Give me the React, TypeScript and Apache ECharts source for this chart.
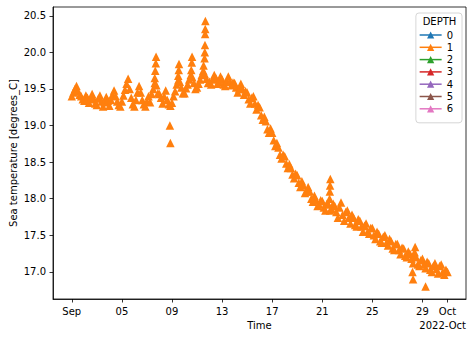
import React, { useEffect, useRef } from "react";
import * as echarts from "echarts";

// Legend categories (DEPTH) and matplotlib tab10 colours
const depths = ["0", "1", "2", "3", "4", "5", "6"];
const depthColors = ["#1f77b4", "#ff7f0e", "#2ca02c", "#d62728", "#9467bd", "#8c564b", "#e377c2"];

// Regular 3-hourly samples starting 2022-09-01 00:00 UTC (depth 1)
const sampleStart = "2022-09-01T00:00Z";
const sampleStepHours = 3;
const tempSep01to05 = [
  19.40, 19.45, 19.50, 19.54, 19.47, 19.42, 19.40, 19.36,
  19.34, 19.41, 19.38, 19.31, 19.36, 19.43, 19.37, 19.30,
  19.28, 19.37, 19.41, 19.33, 19.26, 19.32, 19.39, 19.34,
  19.27, 19.35, 19.42, 19.48, 19.40, 19.33, 19.28, 19.26,
  19.33, 19.41, 19.49, 19.57, 19.64, 19.50, 19.38, 19.29,
];
const tempSep06to10 = [
  19.26, 19.35, 19.45, 19.54, 19.45, 19.35, 19.29, 19.26,
  19.33, 19.40, 19.32, 19.43, 19.50, 19.58, 19.55, 19.44,
  19.43, 19.38, 19.30, 19.40, 19.48, 19.35, 19.29, 19.27,
  19.31, 19.40, 19.47, 19.56, 19.62, 19.60, 19.52, 19.44,
  19.44, 19.51, 19.56, 19.63, 19.69, 19.66, 19.58, 19.50,
];
const tempSep11to15 = [
  19.52, 19.57, 19.63, 19.69, 19.72, 19.70, 19.64, 19.58,
  19.60, 19.56, 19.63, 19.69, 19.65, 19.57, 19.60, 19.67,
  19.63, 19.56, 19.54, 19.61, 19.67, 19.60, 19.55, 19.59,
  19.58, 19.52, 19.45, 19.50, 19.57, 19.50, 19.42, 19.47,
  19.45, 19.36, 19.30, 19.38, 19.40, 19.30, 19.22, 19.28,
];
const tempSep16to20 = [
  19.25, 19.14, 19.08, 19.12, 19.06, 18.95, 18.90, 18.96,
  18.90, 18.80, 18.72, 18.76, 18.70, 18.60, 18.55, 18.60,
  18.58, 18.48, 18.42, 18.47, 18.42, 18.33, 18.28, 18.34,
  18.32, 18.22, 18.16, 18.24, 18.18, 18.08, 18.10, 18.16,
  18.10, 18.00, 17.96, 18.04, 17.98, 17.90, 17.92, 17.98,
];
const tempSep21to25 = [
  17.97, 17.88, 17.84, 17.93, 17.92, 17.84, 17.86, 17.93,
  17.90, 17.82, 17.74, 17.88, 17.95, 17.78, 17.70, 17.82,
  17.84, 17.74, 17.66, 17.78, 17.74, 17.64, 17.62, 17.72,
  17.70, 17.62, 17.55, 17.63, 17.66, 17.55, 17.52, 17.60,
  17.60, 17.50, 17.45, 17.55, 17.52, 17.42, 17.40, 17.48,
];
const tempSep26toOct01 = [
  17.50, 17.40, 17.36, 17.45, 17.42, 17.32, 17.30, 17.38,
  17.38, 17.30, 17.24, 17.33, 17.32, 17.22, 17.20, 17.28,
  17.25, 17.18, 17.12, 17.22, 17.20, 17.10, 17.08, 17.16,
  17.18, 17.10, 17.05, 17.14, 17.12, 17.03, 17.00, 17.08,
  17.12, 17.04, 16.98, 17.08, 17.10, 17.00, 16.96, 17.03,
  17.00,
];

// Short excursions (spikes and outliers) between regular samples
const spikeTimes = [
  "2022-09-07T15:00Z", "2022-09-07T16:00Z", "2022-09-07T17:00Z", "2022-09-07T17:30Z",
  "2022-09-08T20:00Z", "2022-09-08T21:00Z",
  "2022-09-09T12:00Z", "2022-09-09T13:00Z", "2022-09-09T13:30Z",
  "2022-09-10T13:00Z", "2022-09-10T14:00Z", "2022-09-10T14:30Z",
  "2022-09-11T12:00Z", "2022-09-11T12:30Z", "2022-09-11T14:30Z", "2022-09-11T15:00Z",
  "2022-09-11T15:15Z", "2022-09-11T15:30Z", "2022-09-11T15:45Z", "2022-09-11T16:00Z",
  "2022-09-21T14:00Z", "2022-09-21T14:30Z", "2022-09-21T15:00Z", "2022-09-21T15:30Z",
  "2022-09-28T05:00Z", "2022-09-28T06:00Z", "2022-09-28T09:00Z", "2022-09-28T10:00Z",
  "2022-09-29T06:00Z",
];
const spikeValues = [
  19.65, 19.75, 19.85, 19.94,
  19.00, 18.76,
  19.68, 19.76, 19.84,
  19.76, 19.86, 19.94,
  19.75, 19.82, 19.92, 20.00,
  20.10, 20.25, 20.32, 20.43,
  18.00, 18.10, 18.18, 18.27,
  17.00, 16.90, 17.27, 17.34,
  16.80,
];

// Axes
const xTickDates = [
  "2022-09-01T00:00Z", "2022-09-05T00:00Z", "2022-09-09T00:00Z", "2022-09-13T00:00Z",
  "2022-09-17T00:00Z", "2022-09-21T00:00Z", "2022-09-25T00:00Z", "2022-09-29T00:00Z",
  "2022-10-01T00:00Z",
];
const xMinDate = "2022-08-30T12:00Z";
const xMaxDate = "2022-10-02T11:30Z";
const yTicks = [17.0, 17.5, 18.0, 18.5, 19.0, 19.5, 20.0, 20.5];
const yMin = 16.63;
const yMax = 20.62;
const monthNames = ["Jan", "Feb", "Mar", "Apr", "May", "Jun", "Jul", "Aug", "Sep", "Oct", "Nov", "Dec"];

const FONT = "DejaVu Sans";
const DAY = 86400000;

export default function App() {
  const ref = useRef<HTMLDivElement>(null);

  useEffect(() => {
    document.body.style.margin = "0";
    if (!ref.current) return;
    const chart = echarts.init(ref.current, undefined, { renderer: "svg" });

    const t0 = Date.parse(sampleStart);
    const toDays = (ms: number) => (ms - t0) / DAY;
    const regular = [
      ...tempSep01to05, ...tempSep06to10, ...tempSep11to15,
      ...tempSep16to20, ...tempSep21to25, ...tempSep26toOct01,
    ];
    const points: [number, number][] = regular.map((v, i) => [(i * sampleStepHours) / 24, v]);
    spikeTimes.forEach((t, i) => points.push([toDays(Date.parse(t)), spikeValues[i]]));
    points.sort((a, b) => a[0] - b[0]);

    const xTicks = xTickDates.map((s) => toDays(Date.parse(s)));

    const series = depths.map((d, i) => ({
      name: d,
      type: "line",
      data: d === "1" ? points : [],
      symbol: "triangle",
      symbolSize: 8.5,
      showSymbol: true,
      color: depthColors[i],
      itemStyle: { color: depthColors[i] },
      lineStyle: { color: depthColors[i], width: 0, opacity: 0 },
      emphasis: { disabled: true },
    }));

    const axisLineStyle = { color: "#000", width: 0.8 };

    chart.setOption({
      animation: false,
      backgroundColor: "#fff",
      grid: {
        left: 53, right: 8, top: 7, bottom: 41,
        outerBoundsMode: "none",
        containLabel: false,
        show: true, borderColor: "#000", borderWidth: 0.8, backgroundColor: "transparent",
      },
      xAxis: {
        type: "value",
        min: toDays(Date.parse(xMinDate)),
        max: toDays(Date.parse(xMaxDate)),
        name: "Time",
        nameLocation: "middle",
        nameGap: 21,
        nameMoveOverlap: false,
        nameTextStyle: { fontFamily: FONT, fontSize: 10, color: "#000" },
        axisLine: { show: true, onZero: false, lineStyle: axisLineStyle },
        axisTick: { show: true, length: 3.5, lineStyle: axisLineStyle, customValues: xTicks },
        axisLabel: {
          fontFamily: FONT, fontSize: 10, color: "#000", margin: 7,
          customValues: xTicks,
          formatter: (v: number) => {
            const dt = new Date(t0 + Math.round(v * 24) * 3600000);
            const day = dt.getUTCDate();
            return day === 1 ? monthNames[dt.getUTCMonth()] : String(day).padStart(2, "0");
          },
        },
        splitLine: { show: false },
      },
      yAxis: {
        type: "value",
        min: yMin,
        max: yMax,
        name: "Sea temperature [degrees_C]",
        nameLocation: "middle",
        nameGap: 35,
        nameMoveOverlap: false,
        nameTextStyle: { fontFamily: FONT, fontSize: 10, color: "#000" },
        axisLine: { show: true, onZero: false, lineStyle: axisLineStyle },
        axisTick: { show: true, length: 3.5, lineStyle: axisLineStyle, customValues: yTicks },
        axisLabel: {
          fontFamily: FONT, fontSize: 10, color: "#000", margin: 7,
          customValues: yTicks,
          formatter: (v: number) => v.toFixed(1),
        },
        splitLine: { show: false },
      },
      legend: {
        orient: "vertical",
        right: 12,
        top: 13,
        padding: [17, 9, 9, 3],
        itemWidth: 22,
        itemHeight: 9,
        itemGap: 2.3,
        backgroundColor: "rgba(255,255,255,0.8)",
        borderColor: "#cccccc",
        borderWidth: 0.8,
        borderRadius: 3,
        selectedMode: false,
        data: depths,
        textStyle: { fontFamily: FONT, fontSize: 10, color: "#000" },
        lineStyle: { width: 1.5, opacity: 1 },
      },
      graphic: [
        {
          type: "text",
          x: 439.5, y: 21,
          style: {
            text: "DEPTH", fontFamily: FONT, fontSize: 10, fill: "#000",
            align: "center", verticalAlign: "middle",
          },
          z: 100,
        },
        {
          type: "text",
          x: 466, y: 325,
          style: {
            text: "2022-Oct", fontFamily: FONT, fontSize: 10, fill: "#000",
            align: "right", verticalAlign: "middle",
          },
        },
      ],
      series,
    });

    return () => chart.dispose();
  }, []);

  return <div ref={ref} style={{ width: 474, height: 340 }} />;
}
